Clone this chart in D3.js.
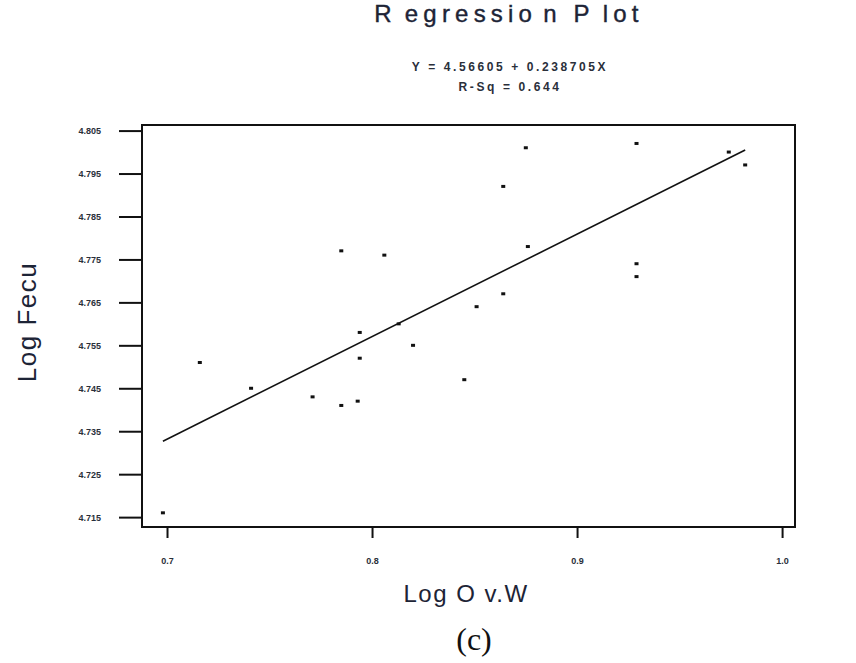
<!DOCTYPE html>
<html>
<head>
<meta charset="utf-8">
<script src="https://cdn.jsdelivr.net/npm/d3@7"></script>
<style>
  html, body { margin: 0; padding: 0; background: #fff; }
  svg { display: block; }
</style>
</head>
<body>
<svg id="chart"></svg>
<script>
const width = 856;
const height = 663;

// data
const logOvW = [0.698, 0.716, 0.741, 0.771, 0.785, 0.793, 0.794, 0.794, 0.820, 0.845, 0.813, 0.851,
  0.785, 0.806, 0.875, 0.864, 0.929, 0.974, 0.982, 0.876, 0.929, 0.929, 0.864];
const logFecu = [4.716, 4.751, 4.745, 4.743, 4.741, 4.742, 4.758, 4.752, 4.755, 4.747, 4.760, 4.764,
  4.777, 4.776, 4.801, 4.792, 4.802, 4.800, 4.797, 4.778, 4.774, 4.771, 4.767];

const yTicks = [4.715, 4.725, 4.735, 4.745, 4.755, 4.765, 4.775, 4.785, 4.795, 4.805];
const xTicks = [0.7, 0.8, 0.9, 1.0];

const intercept = 4.56605;
const slope = 0.238705;
const rSq = 0.644;

const sans = "'Liberation Sans', Arial, sans-serif";
const serif = "'Liberation Serif', 'Times New Roman', serif";

const svg = d3.select("#chart")
  .attr("width", width)
  .attr("height", height)
  .style("font-family", sans);

const x = d3.scaleLinear().domain([0.6878, 1.0063]).range([142, 795]);
const y = d3.scaleLinear().domain([4.7127, 4.8063]).range([527, 125]);

// frame
svg.append("rect")
  .attr("x", x.range()[0])
  .attr("y", y.range()[1])
  .attr("width", x.range()[1] - x.range()[0])
  .attr("height", y.range()[0] - y.range()[1])
  .attr("fill", "none")
  .attr("stroke", "#111")
  .attr("stroke-width", 2);

const yAxis = svg.append("g")
  .attr("transform", `translate(${x.range()[0]},0)`)
  .call(d3.axisLeft(y).tickValues(yTicks).tickSize(23).tickPadding(18).tickFormat(d3.format(".3f")));

const xAxis = svg.append("g")
  .attr("transform", `translate(0,${y.range()[0]})`)
  .call(d3.axisBottom(x).tickValues(xTicks).tickSize(11).tickPadding(20).tickFormat(d3.format(".1f")));

[yAxis, xAxis].forEach((g) => {
  g.attr("font-family", null);
  g.select(".domain").remove();
  g.selectAll(".tick line").attr("stroke", "#111").attr("stroke-width", 2);
  g.selectAll(".tick text")
    .attr("font-size", 9)
    .attr("font-weight", "bold")
    .attr("fill", "#2a2f3a");
});

// regression line
const xExt = d3.extent(logOvW);
svg.append("line")
  .attr("x1", x(xExt[0]))
  .attr("y1", y(intercept + slope * xExt[0]))
  .attr("x2", x(xExt[1]))
  .attr("y2", y(intercept + slope * xExt[1]))
  .attr("stroke", "#111")
  .attr("stroke-width", 1.6);

// points
svg.append("g")
  .selectAll("rect")
  .data(logOvW.map((d, i) => [d, logFecu[i]]))
  .join("rect")
  .attr("x", (d) => x(d[0]) - 2)
  .attr("y", (d) => y(d[1]) - 1.5)
  .attr("width", 4)
  .attr("height", 3)
  .attr("fill", "#111");

// titles
const title = svg.append("text")
  .attr("x", 509)
  .attr("y", 22)
  .attr("text-anchor", "middle")
  .attr("font-size", 24)
  .attr("fill", "#1d2436")
  .attr("stroke", "#1d2436")
  .attr("stroke-width", 0.4)
  .attr("letter-spacing", 5.2);
title.append("tspan").text("R");
title.append("tspan").attr("dx", 8).text("egressio");
title.append("tspan").attr("dx", 6).text("n");
title.append("tspan").text(" P");
title.append("tspan").attr("dx", 8).text("lot");

svg.append("text")
  .attr("x", 510)
  .attr("y", 71)
  .attr("text-anchor", "middle")
  .attr("font-size", 12)
  .attr("font-weight", "bold")
  .attr("letter-spacing", 2.6)
  .attr("fill", "#2a2f3a")
  .text(`Y = ${intercept} + ${slope}X`);

svg.append("text")
  .attr("x", 510)
  .attr("y", 91)
  .attr("text-anchor", "middle")
  .attr("font-size", 12)
  .attr("font-weight", "bold")
  .attr("letter-spacing", 2.6)
  .attr("fill", "#2a2f3a")
  .text(`R-Sq = ${rSq}`);

svg.append("text")
  .attr("x", 466)
  .attr("y", 602)
  .attr("text-anchor", "middle")
  .attr("font-size", 24)
  .attr("letter-spacing", 1.5)
  .attr("fill", "#1d2436")
  .text("Log O v.W");

svg.append("text")
  .attr("transform", "translate(36,322) rotate(-90)")
  .attr("text-anchor", "middle")
  .attr("font-size", 26)
  .attr("letter-spacing", 1.5)
  .attr("fill", "#1d2436")
  .text("Log Fecu");

svg.append("text")
  .attr("x", 474)
  .attr("y", 650)
  .attr("text-anchor", "middle")
  .attr("font-size", 32)
  .style("font-family", serif)
  .attr("fill", "#111")
  .text("(c)");
</script>
</body>
</html>
